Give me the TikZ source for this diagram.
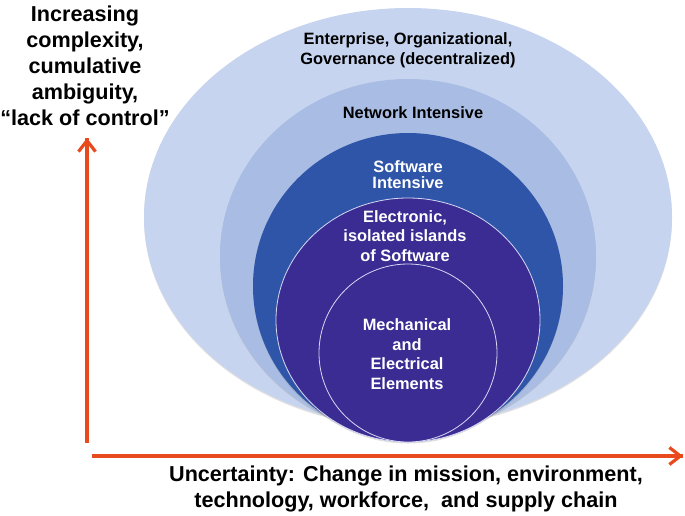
\documentclass[tikz,border=0pt]{standalone}
\usepackage{fontspec}
\setmainfont{Liberation Sans}
\usepackage{tikz}
\usetikzlibrary{calc}
\usetikzlibrary{arrows.meta,decorations.markings,shadows}
\definecolor{enterprise}{HTML}{C6D4EF}
\definecolor{network}{HTML}{A9BDE4}
\definecolor{software}{HTML}{2F55A9}
\definecolor{electronic}{HTML}{3A2C93}
\definecolor{rim}{HTML}{D6D8F4}
\definecolor{axisred}{HTML}{E8491D}
\tikzset{
    layer shadow/.style={drop shadow={shadow xshift=0pt, shadow yshift=-1.5pt, opacity=0.25}},
    dark label/.style={align=center, text=black, font=\fontsize{16.4}{19.7}\selectfont\bfseries},
    light label/.style={align=center, text=white, font=\fontsize{16.4}{19.7}\selectfont\bfseries},
    axis label/.style={align=center, text=black, font=\fontsize{21.6}{25.5}\selectfont\bfseries},
    axis/.style={line width=3.4pt, axisred, decoration={markings,mark=at position 1 with {\arrow[axisred]{Straight Barb[length=11pt,width=17pt,line width=3.2pt]}}}, postaction={decorate}}
}

\begin{document}
\begin{tikzpicture}[x=1pt,y=-1pt]
			\useasboundingbox (0,0) rectangle (685,515);
			\node (base) at (408,441) {};

			\coordinate (C1) at ($(base)+(0,-224)$);
			\coordinate (C2) at ($(base)+(0,-185)$);
			\coordinate (C3) at ($(base)+(0,-155)$);
			\coordinate (C4) at ($(base)+(0,-121)$);
			\coordinate (C5) at ($(base)+(0,-88)$);

			\fill[enterprise, layer shadow] (C1) ellipse [x radius=264pt, y radius=209pt];
			\fill[network, layer shadow] (C2) ellipse [x radius=188pt, y radius=177pt];
			\fill[software, layer shadow] (C3) ellipse [x radius=155pt, y radius=153pt];
			\filldraw[electronic, draw=rim, line width=0.8pt, layer shadow] (C4) ellipse [x radius=132pt, y radius=122pt];
			\filldraw[electronic, draw=rim, line width=0.8pt] (C5) ellipse [x radius=89pt, y radius=89pt];

			\node[dark label] (t1) at ($(base)+(0,-391)$) {Enterprise, Organizational,\\Governance (decentralized)};
			\node[dark label] (t2) at ($(base)+(5,-328)$) {Network Intensive};
			\node[light label, font=\fontsize{16.4}{16}\selectfont\bfseries] (t3) at ($(base)+(0,-266)$) {Software\\Intensive};
			\node[light label] (t4) at ($(base)+(-3,-205)$) {Electronic,\\isolated islands\\of Software};
			\node[light label] (t5) at ($(base)+(-1,-87)$) {Mechanical\\and\\Electrical\\Elements};

			%axes
			\coordinate (Vfoot) at (87,443);
			\coordinate (Vtop) at (87,138);
			\coordinate (Hfoot) at (92,456);
			\coordinate (Htip) at (683,456);
			\draw[axis] (Vfoot) -- (Vtop);
			\draw[axis] (Hfoot) -- (Htip);

			\node[axis label, font=\fontsize{21.6}{26}\selectfont\bfseries] (ylab) at (85,66) {Increasing\\complexity,\\cumulative\\ambiguity,\\``lack of control''};
			\node[axis label] (xlab) at (406,489) {Uncertainty: Change in mission, environment,\\technology, workforce,\ \ and supply chain};

		\end{tikzpicture}
\end{document}
